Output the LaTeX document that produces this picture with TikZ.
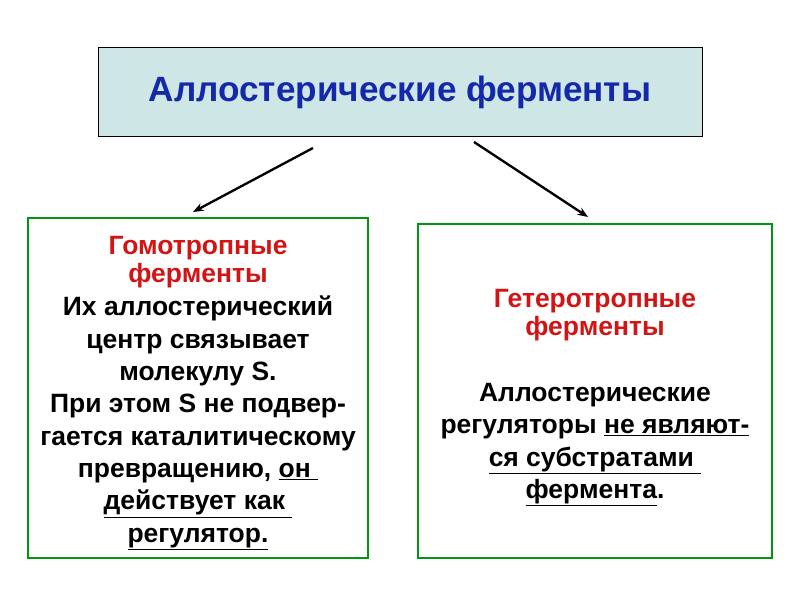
\documentclass[tikz,border=0pt]{standalone}
\usepackage{fontspec}
\setmainfont{Liberation Sans}
\definecolor{titleblue}{RGB}{20,40,170}
\definecolor{boxfill}{RGB}{206,230,230}
\definecolor{boxgreen}{RGB}{0,150,20}
\definecolor{termred}{RGB}{210,20,20}
\tikzset{
  txt/.style={font=\bfseries\fontsize{22.6}{27.6}\selectfont, align=center, inner sep=0pt},
  term/.style={txt, text=termred, font=\bfseries\fontsize{22.6}{24}\selectfont},
  arr/.style={-{Stealth[length=9pt,width=7pt]}, line width=2pt}
}
\usetikzlibrary{arrows.meta}
\begin{document}
\begin{tikzpicture}[x=0.03cm,y=-0.03cm]
  \useasboundingbox (0,0) rectangle (800,600);
  % header
  \node[draw, fill=boxfill, minimum width=604*0.03cm, minimum height=89*0.03cm,
        font=\bfseries\fontsize{30}{34}\selectfont, text=titleblue] (head) at (400,92)
        {Аллостерические ферменты};
  % boxes
  \draw[boxgreen, line width=2pt] (28,218) rectangle (368,558);
  \draw[boxgreen, line width=2pt] (418,224) rectangle (772,558);
  % arrows
  \coordinate (l0) at (313,148); \coordinate (l1) at (193,212);
  \coordinate (r0) at (474,142); \coordinate (r1) at (588,217);
  \draw[arr] (l0) -- (l1);
  \draw[arr] (r0) -- (r1);
  % left text
  \node[term] (homo) at (198,262) {Гомотропные\\ферменты};
  \node[txt, anchor=north] (homotxt) at (198,296) {Их аллостерический\\центр связывает\\молекулу S.\\При этом S не подвер-\\гается каталитическому\\превращению, \underline{он\ }\\\underline{действует как\ }\\\underline{регулятор.}};
  % right text
  \node[term] (hetero) at (595,315) {Гетеротропные\\ферменты};
  \node[txt, anchor=north] (heterotxt) at (595,383) {Аллостерические\\регуляторы \underline{не являют-}\\\underline{ся субстратами\ }\\\underline{фермента}.};
\end{tikzpicture}
\end{document}
